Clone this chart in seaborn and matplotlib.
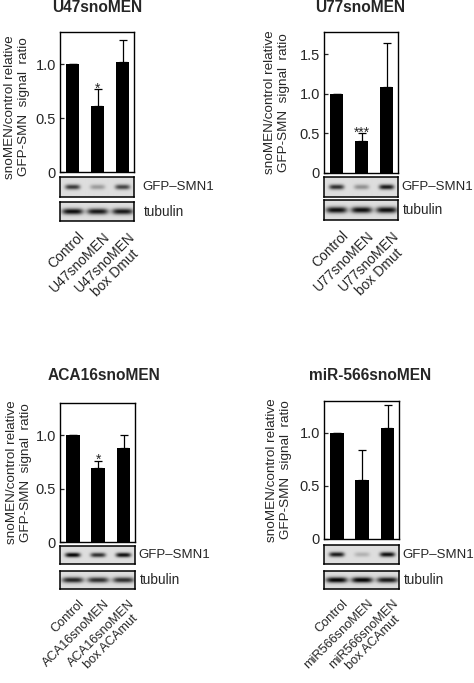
import numpy as np
import matplotlib
matplotlib.use("Agg")
import matplotlib.pyplot as plt
import matplotlib.transforms as mtransforms
import seaborn as sns

sns.set_style("white")
plt.rcParams['font.family'] = ['Liberation Sans', 'DejaVu Sans']

W, H = 474, 683

# panel titles
titles = ["U47snoMEN", "U77snoMEN", "ACA16snoMEN", "miR-566snoMEN"]

# category labels under each blot
u47_labels = ["Control", "U47snoMEN", "U47snoMEN\nbox Dmut"]
u77_labels = ["Control", "U77snoMEN", "U77snoMEN\nbox Dmut"]
aca16_labels = ["Control", "ACA16snoMEN", "ACA16snoMEN\nbox ACAmut"]
mir566_labels = ["Control", "miR566snoMEN", "miR566snoMEN\nbox ACAmut"]

# relative signal ratio (bar height) and upper error
u47_means = [1.0, 0.61, 1.02]
u47_err = [0.0, 0.16, 0.21]
u77_means = [1.0, 0.40, 1.09]
u77_err = [0.0, 0.10, 0.55]
aca16_means = [1.0, 0.69, 0.88]
aca16_err = [0.0, 0.07, 0.12]
mir566_means = [1.0, 0.56, 1.05]
mir566_err = [0.0, 0.28, 0.21]

# significance marks
u47_stars = ["", "*", ""]
u77_stars = ["", "***", ""]
aca16_stars = ["", "*", ""]
mir566_stars = ["", "", ""]

# y axis ticks
u47_yticks = [0, 0.5, 1.0]
u77_yticks = [0, 0.5, 1.0, 1.5]
aca16_yticks = [0, 0.5, 1.0]
mir566_yticks = [0, 0.5, 1.0]
ytick_text = {0: "0", 0.5: "0.5", 1.0: "1.0", 1.5: "1.5"}

# band strength on the blots (0 = nothing, 1 = full)
u47_gfp = [0.75, 0.3, 0.7]
u47_tub = [0.95, 0.9, 0.9]
u77_gfp = [0.8, 0.35, 0.9]
u77_tub = [0.95, 0.95, 0.95]
aca16_gfp = [1.0, 0.8, 0.95]
aca16_tub = [0.85, 0.8, 0.8]
mir566_gfp = [0.9, 0.2, 0.95]
mir566_tub = [1.0, 1.0, 0.9]

ylabel_text = "snoMEN/control relative\nGFP-SMN  signal  ratio"
XMAX = 2.45


def add_ax(fig, box):
    '''add axes from a pixel box (left, top, right, bottom)'''
    x0, y0, x1, y1 = box
    return fig.add_axes([x0 / W, 1 - y1 / H, (x1 - x0) / W, (y1 - y0) / H])


def draw_blot(ax, strength, thick, lane_w):
    '''fake western blot strip with one band per lane'''
    xs = np.linspace(-0.5, XMAX, 240)
    ys = np.linspace(0, 1, 40)
    X, Y = np.meshgrid(xs, ys)
    img = np.full(X.shape, 0.87)
    for i, s in enumerate(strength):
        lane = np.exp(-np.abs((X - i) / lane_w) ** 4)
        band = np.exp(-((Y - 0.5) / thick) ** 2)
        img = img - s * 0.87 * lane * band
    ax.imshow(np.clip(img, 0, 1), cmap="gray", vmin=0, vmax=1,
              extent=(-0.5, XMAX, 0, 1), aspect="auto",
              interpolation="bilinear")
    ax.set_xlim(-0.5, XMAX)
    ax.set_yticks([])
    for sp in ax.spines.values():
        sp.set_visible(True)
        sp.set_color("black")
        sp.set_linewidth(1.1)


def draw_panel(fig, title, tcenter, labels, means, err, stars, yticks, ymax,
               gfp, tub, boxes, label_x, label_y, name_pad, cat_size=10):
    bar_box, gfp_box, tub_box = boxes

    # bars
    ax = add_ax(fig, bar_box)
    sns.barplot(x=labels, y=means, color="black", saturation=1, width=0.54,
                errorbar=None, linewidth=0, ax=ax)
    ax.errorbar(range(len(means)), means, yerr=[np.zeros(len(err)), err],
                fmt="none", ecolor="black", elinewidth=0.9, capsize=3.2,
                capthick=0.9)
    for i, s in enumerate(stars):
        if s:
            ax.annotate(s, (i, means[i] + err[i]), xytext=(0, -2.5),
                        textcoords="offset points", ha="center",
                        va="baseline", fontsize=10)
    ax.set_xlim(-0.5, XMAX)
    ax.set_ylim(0, ymax)
    ax.set_xticks([])
    ax.set_xlabel("")
    ax.set_yticks(yticks)
    ax.set_yticklabels([ytick_text[t] for t in yticks], fontsize=10.5)
    ax.tick_params(axis="y", direction="in", length=3, width=0.9, pad=3,
                   left=True)
    for sp in ax.spines.values():
        sp.set_visible(True)
        sp.set_color("black")
        sp.set_linewidth(1.0)
    ax.set_ylabel(ylabel_text, fontsize=9.7)
    ax.yaxis.set_label_coords(label_x, label_y)

    # title
    fig.text(tcenter[0] / W, 1 - tcenter[1] / H, title, ha="center",
             va="center", fontsize=11.2, fontweight="bold")

    # blots
    ax_g = add_ax(fig, gfp_box)
    draw_blot(ax_g, gfp, 0.13, 0.3)
    ax_g.set_xticks([])
    ax_g.text(1 + name_pad, 0.5, "GFP\u2013SMN1", transform=ax_g.transAxes,
              ha="left", va="center", fontsize=9.5)

    ax_t = add_ax(fig, tub_box)
    draw_blot(ax_t, tub, 0.16, 0.42)
    ax_t.text(1 + name_pad + 0.02, 0.5, "tubulin", transform=ax_t.transAxes,
              ha="left", va="center", fontsize=9.8)

    # rotated category labels
    ax_t.set_xticks(range(len(labels)))
    ax_t.set_xticklabels(labels, rotation=45, ha="right", va="top",
                         rotation_mode="anchor", multialignment="center",
                         fontsize=cat_size, linespacing=1.1)
    ax_t.tick_params(axis="x", length=0, pad=6)
    shift = mtransforms.ScaledTranslation(0.05, 0, fig.dpi_scale_trans)
    for lbl in ax_t.get_xticklabels():
        lbl.set_transform(lbl.get_transform() + shift)


fig = plt.figure(figsize=(W / 100, H / 100), dpi=100)

draw_panel(fig, titles[0], (97, 7), u47_labels, u47_means, u47_err,
           u47_stars, u47_yticks, 1.30, u47_gfp, u47_tub,
           [(60, 32, 134, 172), (60, 177, 134, 197), (60, 202, 134, 221)],
           -0.405, 0.464, 0.11)
draw_panel(fig, titles[1], (360, 7), u77_labels, u77_means, u77_err,
           u77_stars, u77_yticks, 1.78, u77_gfp, u77_tub,
           [(324, 32, 398, 173), (324, 177, 398, 197), (324, 200, 398, 220)],
           -0.46, 0.5, 0.04)
# lower row labels run into the bottom edge, so slightly smaller
draw_panel(fig, titles[2], (104, 375), aca16_labels, aca16_means, aca16_err,
           aca16_stars, aca16_yticks, 1.30, aca16_gfp, aca16_tub,
           [(60, 403, 135, 542), (60, 546, 135, 564), (60, 571, 135, 589)],
           -0.373, 0.5, 0.05, cat_size=9.2)
draw_panel(fig, titles[3], (370, 375), mir566_labels, mir566_means,
           mir566_err, mir566_stars, mir566_yticks, 1.30, mir566_gfp,
           mir566_tub,
           [(324, 401, 399, 539), (324, 545, 399, 564), (324, 571, 399, 589)],
           -0.427, 0.5, 0.05, cat_size=9.2)

fig.savefig("out.png", dpi=100)
